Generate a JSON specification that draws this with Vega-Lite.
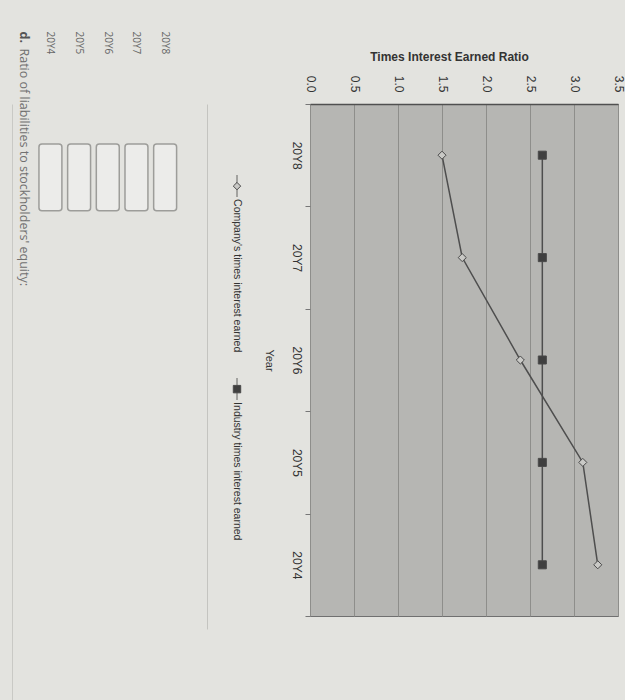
{
  "$schema": "https://vega.github.io/schema/vega-lite/v6.json",
  "background": "#e3e3df",
  "padding": {"left": 12, "top": 30, "right": 0, "bottom": 0},
  "bounds": "flush",
  "spacing": 0,
  "config": {
    "font": "Liberation Sans",
    "view": {"stroke": null},
    "axis": {"labelFont": "Liberation Sans", "titleFont": "Liberation Sans"}
  },
  "hconcat": [
    {
      "width": 195,
      "height": 597,
      "data": {
        "values": [
          {"year": "20Y8"},
          {"year": "20Y7"},
          {"year": "20Y6"},
          {"year": "20Y5"},
          {"year": "20Y4"}
        ]
      },
      "mark": {
        "type": "bar",
        "cornerRadius": 3,
        "fill": "#ececea",
        "stroke": "#9d9d9a",
        "strokeWidth": 1.5
      },
      "encoding": {
        "x": {
          "field": "year",
          "type": "ordinal",
          "sort": ["20Y4", "20Y5", "20Y6", "20Y7", "20Y8"],
          "scale": {"paddingInner": 0.2, "paddingOuter": 1.11, "align": 0.47},
          "axis": {
            "orient": "top",
            "labelAngle": 90,
            "labelAlign": "left",
            "labelBaseline": "middle",
            "labelPadding": 73,
            "ticks": false,
            "tickSize": 0,
            "domain": false,
            "labelFont": "Open Sans",
            "labelFontSize": 10,
            "labelColor": "#666666",
            "title": "d.",
            "titleAngle": 90,
            "titleAlign": "left",
            "titleBaseline": "middle",
            "titleX": 11,
            "titleY": -73,
            "titleFont": "Open Sans",
            "titleFontSize": 12.5,
            "titleFontWeight": "bold",
            "titleColor": "#555555"
          }
        },
        "y": {
          "datum": 0.067,
          "type": "quantitative",
          "scale": {"domain": [0, 1], "reverse": true},
          "axis": {
            "labels": false,
            "ticks": false,
            "grid": false,
            "domain": true,
            "domainColor": "#c9c9c5",
            "title": "Ratio of liabilities to stockholders' equity:",
            "titleAngle": 90,
            "titleAlign": "left",
            "titleBaseline": "middle",
            "titleX": 11,
            "titleY": -56,
            "titleFont": "Open Sans",
            "titleFontSize": 12.5,
            "titleFontWeight": "normal",
            "titleColor": "#707070"
          }
        },
        "y2": {"datum": 0.179}
      }
    },
    {
      "width": 103,
      "height": 525,
      "data": {
        "values": [
          {"series": "company", "label": "Company's times interest earned"},
          {"series": "industry", "label": "Industry times interest earned"}
        ]
      },
      "encoding": {
        "y": {
          "field": "series",
          "type": "nominal",
          "scale": {"type": "point", "padding": 0.793, "align": 0.255},
          "axis": {
            "labels": false,
            "ticks": false,
            "grid": false,
            "title": null,
            "domain": true,
            "domainColor": "#c4c4c0"
          }
        },
        "x": {
          "datum": 3,
          "type": "quantitative",
          "scale": {"domain": [0, 10.3]},
          "axis": null
        }
      },
      "layer": [
        {
          "mark": {"type": "tick", "orient": "vertical", "size": 22, "thickness": 1.3, "color": "#555555"}
        },
        {
          "mark": {"type": "point", "filled": true, "stroke": "#4a4a4a", "strokeWidth": 1, "size": 55, "opacity": 1},
          "encoding": {
            "shape": {
              "field": "series",
              "type": "nominal",
              "scale": {"domain": ["company", "industry"], "range": ["diamond", "square"]},
              "legend": null
            },
            "fill": {
              "field": "series",
              "type": "nominal",
              "scale": {"domain": ["company", "industry"], "range": ["#c9c9c6", "#3f3f3f"]},
              "legend": null
            }
          }
        },
        {
          "mark": {
            "type": "text",
            "angle": 90,
            "align": "left",
            "baseline": "middle",
            "dx": 13,
            "fontSize": 10.5,
            "color": "#333333"
          },
          "encoding": {"text": {"field": "label"}}
        }
      ]
    },
    {
      "width": 308,
      "height": 512,
      "view": {"fill": "#b6b6b3", "stroke": "#707070", "strokeWidth": 1},
      "data": {
        "values": [
          {"year": "20Y8", "series": "company", "value": 1.5},
          {"year": "20Y7", "series": "company", "value": 1.73},
          {"year": "20Y6", "series": "company", "value": 2.39},
          {"year": "20Y5", "series": "company", "value": 3.1},
          {"year": "20Y4", "series": "company", "value": 3.27},
          {"year": "20Y8", "series": "industry", "value": 2.64},
          {"year": "20Y7", "series": "industry", "value": 2.64},
          {"year": "20Y6", "series": "industry", "value": 2.64},
          {"year": "20Y5", "series": "industry", "value": 2.64},
          {"year": "20Y4", "series": "industry", "value": 2.64}
        ]
      },
      "encoding": {
        "x": {
          "field": "value",
          "type": "quantitative",
          "scale": {"domain": [0, 3.5], "nice": false},
          "axis": {
            "orient": "top",
            "values": [0, 0.5, 1, 1.5, 2, 2.5, 3, 3.5],
            "format": ".1f",
            "labelAngle": 90,
            "labelAlign": "right",
            "labelBaseline": "middle",
            "labelPadding": 12,
            "labelFlush": false,
            "labelFontSize": 12,
            "labelColor": "#333333",
            "ticks": false,
            "grid": true,
            "gridColor": "#8e8e8b",
            "domain": true,
            "domainColor": "#505050",
            "domainWidth": 1.5,
            "title": "Times Interest Earned Ratio",
            "titleAngle": 0,
            "titleX": 139,
            "titleY": -48,
            "titleAlign": "center",
            "titleBaseline": "middle",
            "titleFontWeight": "bold",
            "titleFontSize": 12,
            "titleColor": "#333333"
          }
        },
        "y": {
          "field": "year",
          "type": "ordinal",
          "sort": ["20Y8", "20Y7", "20Y6", "20Y5", "20Y4"],
          "scale": {"type": "band", "paddingInner": 0, "paddingOuter": 0},
          "axis": {
            "orient": "left",
            "labelAngle": 90,
            "labelAlign": "center",
            "labelBaseline": "top",
            "labelPadding": 4,
            "labelFontSize": 12,
            "labelColor": "#333333",
            "ticks": true,
            "tickSize": 5,
            "tickBand": "extent",
            "tickColor": "#777777",
            "domain": false,
            "title": "Year",
            "titleAngle": 90,
            "titleX": -42,
            "titleY": 256,
            "titleAlign": "center",
            "titleBaseline": "middle",
            "titleFontSize": 11,
            "titleFontWeight": "normal",
            "titleColor": "#333333"
          }
        }
      },
      "layer": [
        {
          "mark": {"type": "line", "color": "#4e4e4e", "strokeWidth": 1.5},
          "encoding": {"detail": {"field": "series"}}
        },
        {
          "mark": {"type": "point", "filled": true, "stroke": "#4a4a4a", "strokeWidth": 1, "size": 65, "opacity": 1},
          "encoding": {
            "shape": {
              "field": "series",
              "type": "nominal",
              "scale": {"domain": ["company", "industry"], "range": ["diamond", "square"]},
              "legend": null
            },
            "fill": {
              "field": "series",
              "type": "nominal",
              "scale": {"domain": ["company", "industry"], "range": ["#c9c9c6", "#3f3f3f"]},
              "legend": null
            }
          }
        }
      ]
    }
  ]
}
